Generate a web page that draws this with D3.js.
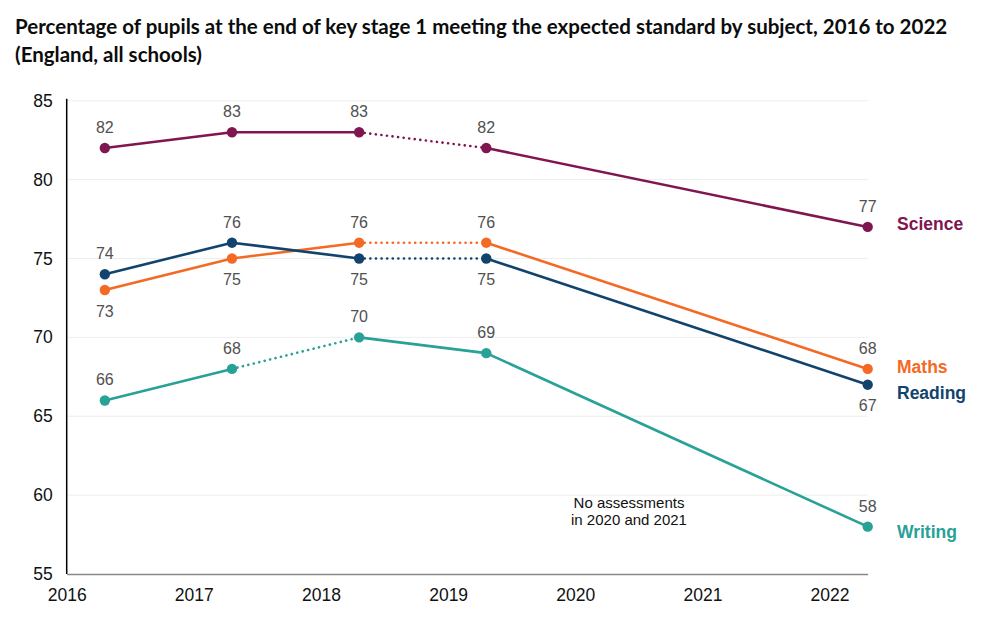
<!DOCTYPE html>
<html><head><meta charset="utf-8">
<script src="https://cdn.jsdelivr.net/npm/d3@7"></script>
<style>
body{margin:0;background:#fff;}
svg{display:block;}
</style></head>
<body>
<svg id="chart" width="1000" height="618"></svg>
<script>
// ---- data ----
const years = [2016, 2017, 2018, 2019, 2022];
const science = [82, 83, 83, 82, 77];
const maths = [73, 75, 76, 76, 68];
const reading = [74, 76, 75, 75, 67];
const writing = [66, 68, 70, 69, 58];
const seriesNames = ["Science", "Maths", "Reading", "Writing"];
const seriesColors = ["#801650", "#F46A25", "#12436D", "#28A197"];
// index of segment (from point i to i+1) drawn dotted
const dottedSegment = [2, 2, 2, 1];
// label placement per point: 1 = above, -1 = below
const labelPos = [
  [1, 1, 1, 1, 1],
  [-1, -1, 1, 1, 1],
  [1, 1, -1, -1, -1],
  [1, 1, 1, 1, 1]
];
const yTicks = [55, 60, 65, 70, 75, 80, 85];
const xTicks = [2016, 2017, 2018, 2019, 2020, 2021, 2022];
const titleLines = ["Percentage of pupils at the end of key stage 1 meeting the expected standard by subject, 2016 to 2022", "(England, all schools)"];
const noteLines = ["No assessments", "in 2020 and 2021"];
const legendOffsets = [3.5, 3.7, 14.6, 11.3];

const allSeries = [science, maths, reading, writing];
const svg = d3.select("#chart");
const m = {left: 66.7, right: 867.7, top: 100.7, bottom: 574};
const x = d3.scaleLinear().domain([2016, 2022.3]).range([m.left, m.right]);
const y = d3.scaleLinear().domain([55, 85]).range([m.bottom, m.top]);
const xp = yr => x(yr + 0.3);
const FONT = "'Liberation Sans', Arial, sans-serif";

// title
titleLines.forEach((t, i) => {
  svg.append("text").attr("font-family", "Lato, 'Noto Sans', sans-serif").attr("font-weight", "bold")
    .attr("font-size", 20.5).attr("fill", "#0b0c0c")
    .attr("x", 15).attr("y", 34 + i * 27.5).text(t);
});

// gridlines
svg.append("g").selectAll("line").data(yTicks.slice(1)).join("line")
  .attr("x1", m.left).attr("x2", m.right).attr("y1", d => y(d)).attr("y2", d => y(d))
  .attr("stroke", "#eeeeee").attr("stroke-width", 1);

// y axis
const yAxis = svg.append("g").attr("transform", `translate(${m.left},0)`)
  .call(d3.axisLeft(y).tickValues(yTicks).tickSize(0).tickPadding(14));
yAxis.select(".domain").remove();
yAxis.selectAll("text").attr("font-family", FONT).attr("font-size", 17.5).attr("fill", "#111");

// x axis
const xAxis = svg.append("g").attr("transform", `translate(0,${m.bottom})`)
  .call(d3.axisBottom(x).tickValues(xTicks).tickFormat(d3.format("d")).tickSize(0).tickPadding(15));
xAxis.select(".domain").attr("stroke", "#888").attr("stroke-width", 1.5);
xAxis.selectAll("text").attr("font-family", FONT).attr("font-size", 17.5).attr("fill", "#111");
svg.append("line").attr("x1", m.left).attr("x2", m.left).attr("y1", m.top - 2).attr("y2", m.bottom)
  .attr("stroke", "#000").attr("stroke-width", 1.5);

// series
const line = d3.line().x(d => xp(d[0])).y(d => y(d[1]));
allSeries.forEach((vals, s) => {
  const col = seriesColors[s];
  const pts = years.map((yr, i) => [yr, vals[i]]);
  const g = svg.append("g");
  for (let i = 0; i < pts.length - 1; i++) {
    const dotted = i === dottedSegment[s];
    g.append("path").attr("d", line([pts[i], pts[i + 1]]))
      .attr("fill", "none").attr("stroke", col)
      .attr("stroke-width", 2.6)
      .attr("stroke-dasharray", dotted ? "0.1,5.5" : null)
      .attr("stroke-linecap", dotted ? "round" : "butt");
  }
  g.selectAll("circle").data(pts).join("circle")
    .attr("cx", d => xp(d[0])).attr("cy", d => y(d[1])).attr("r", 5.2).attr("fill", col);
  g.selectAll("text.val").data(pts).join("text").attr("class", "val")
    .attr("x", d => xp(d[0])).attr("y", (d, i) => y(d[1]) + (labelPos[s][i] > 0 ? -15 : 26.5))
    .attr("text-anchor", "middle").attr("font-family", FONT)
    .attr("font-size", 16).attr("fill", "#505050").text(d => d[1]);
  // legend label
  svg.append("text").attr("x", 897).attr("y", y(vals[vals.length - 1]) + legendOffsets[s])
    .attr("font-family", FONT).attr("font-weight", "bold")
    .attr("font-size", 17.5).attr("fill", col).text(seriesNames[s]);
});

// note
const note = svg.append("text").attr("text-anchor", "middle").attr("font-family", FONT)
  .attr("font-size", 15).attr("fill", "#111");
noteLines.forEach((t, i) => note.append("tspan").attr("x", 629).attr("y", 508 + i * 17).text(t));
</script>
</body></html>
